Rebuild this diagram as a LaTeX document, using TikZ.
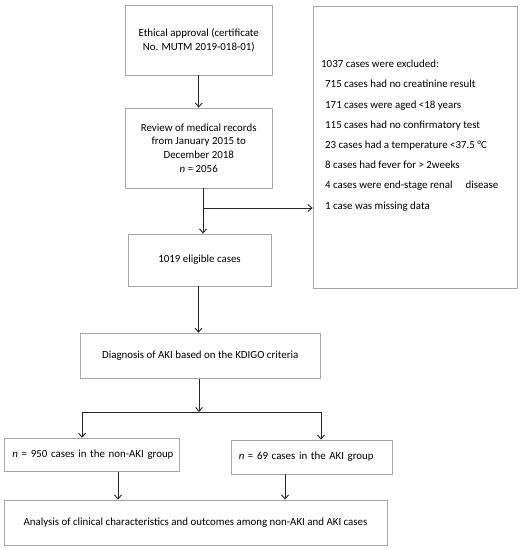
\documentclass[tikz,border=0pt]{standalone}
\usepackage{fontspec}
\setmainfont{Carlito}
\usetikzlibrary{calc,arrows.meta}

\begin{document}
\begin{tikzpicture}[x=1pt,y=-1pt,
  box/.style={draw=black!35,line width=0.8pt,align=center,inner sep=2pt,
    font=\fontsize{10.9}{13.6}\selectfont},
  arr/.style={-{Straight Barb[length=4pt,width=7pt]},line width=0.9pt,black!85}]
\useasboundingbox (0,0) rectangle (527,550);

\node[box,minimum width=146.5,minimum height=70] (ethic) at (198.75,40)
  {Ethical approval (certificate\\No. MUTM 2019-018-01)};
\node[box,minimum width=146.5,minimum height=80] (review) at (198.75,148)
  {Review of medical records\\from January 2015 to\\December 2018\\\textit{n} = 2056};
\node[box,minimum width=143,minimum height=52] (eligible) at (199.5,260)
  {1019 eligible cases};
\node[box,minimum width=204,minimum height=282] (excl) at (415,147) {};
\node[anchor=north west,align=left,inner sep=0pt,
  font=\fontsize{10.9}{20.2}\selectfont] (excltext) at (321,60)
  {1037 cases were excluded:\\
   \hspace{4pt}715 cases had no creatinine result\\
   \hspace{4pt}171 cases were aged <18 years\\
   \hspace{4pt}115 cases had no confirmatory test\\
   \hspace{4pt}23 cases had a temperature <37.5 °C\\
   \hspace{4pt}8 cases had fever for > 2weeks\\
   \hspace{4pt}4 cases were end-stage renal\hspace{13pt}disease\\
   \hspace{4pt}1 case was missing data};
\node[box,minimum width=239.5,minimum height=45.7] (diag) at (200.25,356)
  {Diagnosis of AKI based on the KDIGO criteria};
\node[box,minimum width=175,minimum height=33.7,text width=168,align=left] (nonaki) at (91.5,455)
  {\hspace*{5pt}\textit{n} = 950 cases in the non-AKI group};
\node[box,minimum width=160.5,minimum height=34,text width=154,align=left] (aki) at (311.75,457)
  {\hspace*{4pt}\textit{n} = 69 cases in the AKI group};
\node[box,minimum width=383,minimum height=45] (analysis) at (195.5,522.5)
  {Analysis of clinical characteristics and outcomes among non-AKI and AKI cases};

\coordinate (split) at (203,208);
\coordinate (fork) at (199,412);
\coordinate (forkL) at (82,412);
\coordinate (forkR) at (321,412);

\draw[arr] (ethic.south) -- (review.north);
\draw[line width=0.9pt,black!85] (split |- review.south) -- (split);
\draw[arr] (split) -- (split |- eligible.north);
\draw[arr] (split) -- (split -| excl.west);
\draw[arr] (eligible.south -| 198.5,0) -- (198.5,0 |- diag.north);
\draw[arr] (fork |- diag.south) -- (fork);
\draw[line width=0.9pt,black!85] (forkL) -- (forkR);
\draw[arr] (forkL) -- (forkL |- nonaki.north);
\draw[arr] (forkR) -- (forkR |- aki.north);
\draw[arr] (118,0 |- nonaki.south) -- (118,0 |- analysis.north);
\draw[arr] (285,0 |- aki.south) -- (285,0 |- analysis.north);
\end{tikzpicture}
\end{document}
